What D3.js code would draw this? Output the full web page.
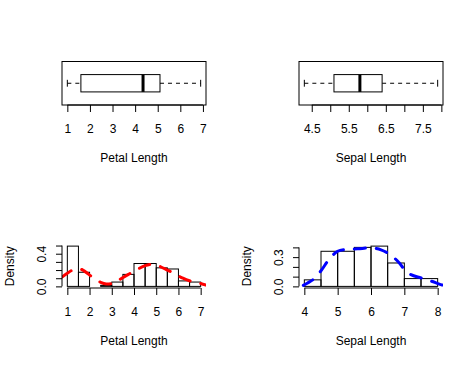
<!DOCTYPE html>
<html>
<head>
<meta charset="utf-8">
<script src="https://cdn.jsdelivr.net/npm/d3@7"></script>
<style>
    body { margin: 0; background: #fff; }
    svg { display: block; font-family: "Liberation Sans", Arial, Helvetica, sans-serif; }
</style>
</head>
<body>
<svg id="chart" width="474" height="366"></svg>
<script>
// Data
const petalBox = [1.0, 1.6, 4.35, 5.1, 6.9]   // min, q1, median, q3, max
const sepalBox = [4.3, 5.1, 5.8, 6.4, 7.9]
const petalBoxTicks = [1, 2, 3, 4, 5, 6, 7]
const petalBoxLabels = [1, 2, 3, 4, 5, 6, 7]
const sepalBoxTicks = [4.5, 5, 5.5, 6, 6.5, 7, 7.5, 8]
const sepalBoxLabels = [4.5, 5.5, 6.5, 7.5]

const petalBreaks = [1, 1.5, 2, 2.5, 3, 3.5, 4, 4.5, 5, 5.5, 6, 6.5, 7]
const petalHist = [0.493, 0.173, 0, 0.013, 0.053, 0.147, 0.28, 0.28, 0.227, 0.213, 0.067, 0.053]
const sepalBreaks = [4, 4.5, 5, 5.5, 6, 6.5, 7, 7.5, 8]
const sepalHist = [0.067, 0.36, 0.36, 0.4, 0.413, 0.24, 0.08, 0.08]

const petalKdeX = [0.76, 1.0, 1.2, 1.5, 1.7, 1.95, 2.25, 2.5, 2.75, 3.0, 3.2, 3.45, 3.8, 4.1, 4.5, 4.85, 5.2, 5.5, 5.8, 6.2, 6.6, 7.0, 7.24]
const petalKdeY = [0.115, 0.16, 0.195, 0.215, 0.2, 0.15, 0.087, 0.05, 0.03, 0.035, 0.055, 0.1, 0.155, 0.2, 0.255, 0.27, 0.24, 0.2, 0.16, 0.1, 0.06, 0.035, 0.015]
const sepalKdeX = [3.97, 4.1, 4.3, 4.5, 4.75, 5.0, 5.3, 5.6, 6.0, 6.3, 6.6, 6.85, 7.0, 7.2, 7.5, 7.8, 8.05, 8.16]
const sepalKdeY = [0.01, 0.035, 0.08, 0.16, 0.28, 0.36, 0.38, 0.385, 0.395, 0.375, 0.32, 0.24, 0.175, 0.12, 0.087, 0.055, 0.023, 0.012]

const petalHistXTicks = [1, 2, 3, 4, 5, 6, 7]
const sepalHistXTicks = [4, 5, 6, 7, 8]
const petalHistYTicks = [0, 0.1, 0.2, 0.3, 0.4, 0.5]
const petalHistYLabels = [0, 0.4]
const sepalHistYTicks = [0, 0.1, 0.2, 0.3, 0.4]
const sepalHistYLabels = [0, 0.3]

// Presentation
const svg = d3.select('#chart')
const panelWidth = 237
const panelHeight = 183
const margin = { top: 61.5, right: 31, bottom: 78, left: 62 }
const chartWidth = panelWidth - margin.left - margin.right
const chartHeight = panelHeight - margin.top - margin.bottom
const fontSize = 12

// R style axis range: data range stretched by 4%
const pad = ([a, b]) => [a - (b - a) * 0.04, b + (b - a) * 0.04]

const fmt = labels => d => labels.includes(d) ? (Number.isInteger(d) && labels.every(Number.isInteger) ? d : d.toFixed(1)) : ''

function bottomAxis(g, x, ticks, labels) {
    const axis = g.append('g')
        .attr('transform', `translate(0, ${chartHeight})`)
        .call(d3.axisBottom(x).tickValues(ticks).tickSize(7).tickSizeOuter(0).tickFormat(fmt(labels)))
    axis.select('.domain').attr('d', `M${x(ticks[0])},0H${x(ticks[ticks.length - 1])}`)
    axis.selectAll('text').attr('y', 28.3).attr('dy', null)
        .style('font-size', fontSize + 'px').attr('fill', '#000')
    axis.selectAll('line, path').attr('stroke', '#000')
}

function panelTitle(g, title) {
    g.append('text')
        .attr('x', chartWidth / 2)
        .attr('y', chartHeight + 57)
        .attr('text-anchor', 'middle')
        .style('font-size', fontSize + 'px')
        .text(title)
}

function boxPanel(left, top, stats, ticks, labels, title) {
    const g = svg.append('g').attr('transform', `translate(${left + margin.left}, ${top + margin.top})`)
    const [lo, q1, med, q3, hi] = stats

    const x = d3.scaleLinear().domain(pad([lo, hi])).range([0, chartWidth])
    const y = d3.scaleLinear().domain(pad([0.5, 1.5])).range([chartHeight, 0])
    const boxHalf = 0.215
    const stapleHalf = 0.085

    // whiskers
    g.selectAll('line.whisker')
        .data([[lo, q1], [q3, hi]])
        .join('line')
        .attr('class', 'whisker')
        .attr('x1', d => x(d[0])).attr('x2', d => x(d[1]))
        .attr('y1', y(1)).attr('y2', y(1))
        .attr('stroke', '#000')
        .attr('stroke-dasharray', '4,4')

    g.selectAll('line.staple')
        .data([lo, hi])
        .join('line')
        .attr('class', 'staple')
        .attr('x1', d => x(d)).attr('x2', d => x(d))
        .attr('y1', y(1 - stapleHalf)).attr('y2', y(1 + stapleHalf))
        .attr('stroke', '#000')

    g.append('rect')
        .attr('x', x(q1))
        .attr('y', y(1 + boxHalf))
        .attr('width', x(q3) - x(q1))
        .attr('height', y(1 - boxHalf) - y(1 + boxHalf))
        .attr('fill', '#fff')
        .attr('stroke', '#000')

    g.append('line')
        .attr('x1', x(med)).attr('x2', x(med))
        .attr('y1', y(1 + boxHalf)).attr('y2', y(1 - boxHalf))
        .attr('stroke', '#000')
        .attr('stroke-width', 3)

    // frame
    g.append('rect')
        .attr('width', chartWidth)
        .attr('height', chartHeight)
        .attr('fill', 'none')
        .attr('stroke', '#000')

    bottomAxis(g, x, ticks, labels)
    panelTitle(g, title)
}

function histPanel(left, top, breaks, heights, kdeX, kdeY, color, xTicks, yTicks, yLabels, title, clipId) {
    const g = svg.append('g').attr('transform', `translate(${left + margin.left}, ${top + margin.top})`)

    const x = d3.scaleLinear().domain(pad(d3.extent(breaks))).range([0, chartWidth])
    const y = d3.scaleLinear().domain(pad([0, d3.max(heights)])).range([chartHeight, 0])

    g.append('clipPath').attr('id', clipId)
        .append('rect').attr('width', chartWidth).attr('height', chartHeight)

    // bars
    g.selectAll('rect.bar')
        .data(heights)
        .join('rect')
        .attr('class', 'bar')
        .attr('x', (d, i) => x(breaks[i]))
        .attr('width', (d, i) => x(breaks[i + 1]) - x(breaks[i]))
        .attr('y', d => y(d))
        .attr('height', d => y(0) - y(d))
        .attr('fill', 'none')
        .attr('stroke', '#000')

    // density
    const line = d3.line()
        .x(d => x(d[0]))
        .y(d => y(d[1]))
        .curve(d3.curveCatmullRom)
    g.append('path')
        .datum(d3.zip(kdeX, kdeY))
        .attr('clip-path', `url(#${clipId})`)
        .attr('d', line)
        .attr('fill', 'none')
        .attr('stroke', color)
        .attr('stroke-width', 3)
        .attr('stroke-dasharray', '11,11')
        .attr('stroke-linecap', 'round')

    bottomAxis(g, x, xTicks, xTicks)

    const yAxis = g.append('g')
        .call(d3.axisLeft(y).tickValues(yTicks).tickSize(6).tickSizeOuter(0).tickFormat(d => yLabels.includes(d) ? d.toFixed(1) : ''))
    yAxis.select('.domain').attr('d', `M0,${y(yTicks[0])}V${y(yTicks[yTicks.length - 1])}`)
    yAxis.selectAll('text')
        .attr('transform', 'rotate(-90)')
        .attr('x', 0)
        .attr('y', -16)
        .attr('dy', null)
        .attr('text-anchor', 'middle')
        .style('font-size', fontSize + 'px')
        .attr('fill', '#000')
    yAxis.selectAll('line, path').attr('stroke', '#000')

    g.append('text')
        .attr('transform', `translate(${-48}, ${chartHeight / 2}) rotate(-90)`)
        .attr('text-anchor', 'middle')
        .style('font-size', fontSize + 'px')
        .text('Density')

    panelTitle(g, title)
}

boxPanel(0, 0, petalBox, petalBoxTicks, petalBoxLabels, 'Petal Length')
boxPanel(panelWidth, 0, sepalBox, sepalBoxTicks, sepalBoxLabels, 'Sepal Length')
histPanel(0, panelHeight, petalBreaks, petalHist, petalKdeX, petalKdeY, '#ff0000',
    petalHistXTicks, petalHistYTicks, petalHistYLabels, 'Petal Length', 'clip-petal')
histPanel(panelWidth, panelHeight, sepalBreaks, sepalHist, sepalKdeX, sepalKdeY, '#0000ff',
    sepalHistXTicks, sepalHistYTicks, sepalHistYLabels, 'Sepal Length', 'clip-sepal')
</script>
</body>
</html>
